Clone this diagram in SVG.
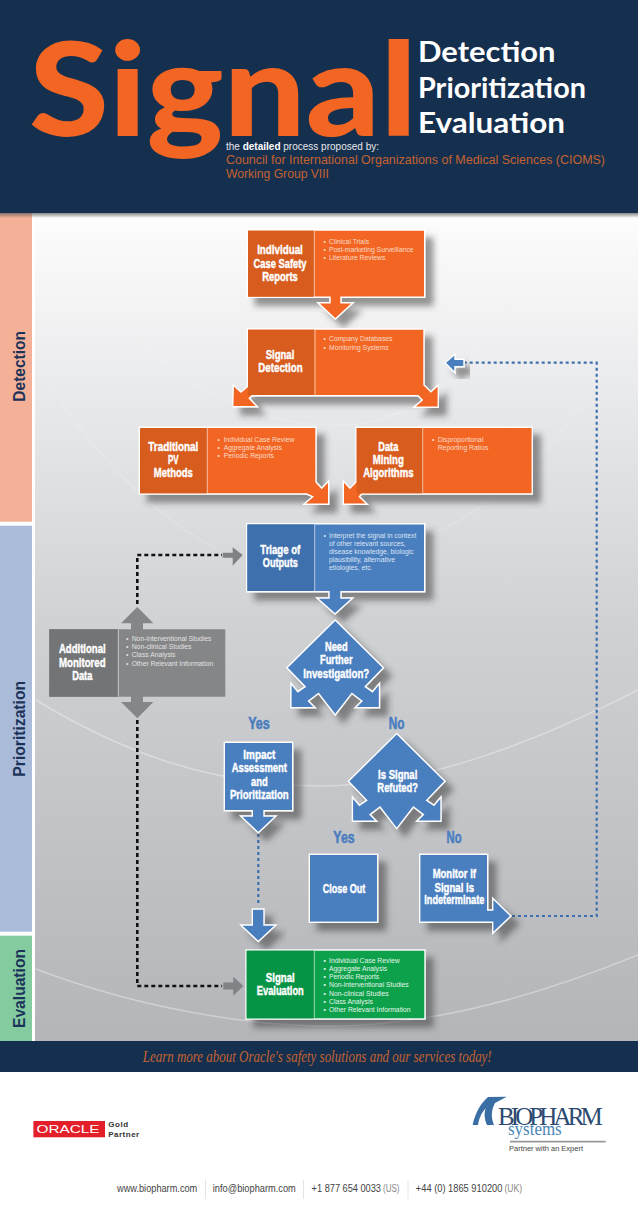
<svg xmlns="http://www.w3.org/2000/svg" width="638" height="1218" viewBox="0 0 638 1218">
<style>
text{font-family:"Liberation Sans",Arial,sans-serif}
.h{font-weight:700;font-size:13.500px;fill:#fff;stroke:#fff;stroke-width:.45;text-anchor:middle}
.yn{font-weight:700;font-size:16px;fill:#4a7ebf;stroke:#4a7ebf;stroke-width:.55;text-anchor:middle}
.b{font-size:6.800px}
.bo{fill:#fbdcc8}.bb{fill:#dbe5f3}.bg{fill:#e2e2e2}.bv{fill:#e4f4ea}
.or{fill:#f26522;stroke:#fff;stroke-width:1.4}
.orl{fill:#d75c1d}
.bl{fill:#4a7ebf;stroke:#fff;stroke-width:1.4}
.bll{fill:#3f70ae}
.gn{fill:#0aa14c;stroke:#fff;stroke-width:1.4}
.gnl{fill:#079345}
.div{stroke:#fff;stroke-width:.8;stroke-opacity:.75}
.side{font-weight:700;font-size:17px;fill:#1b3358;text-anchor:middle}
.title{font-family:Lato,"Liberation Sans",sans-serif;font-weight:700;font-size:29px;fill:#fff}
.arc{fill:none;stroke:#fff;stroke-width:1.500;stroke-opacity:.35}
.arcf{fill:none;stroke:#fff;stroke-width:1.500;stroke-opacity:.16}
.ct{font-size:10px;fill:#444}
.ct2{font-size:10px;fill:#888}
.blk{fill:none;stroke:#111;stroke-width:2.600;stroke-dasharray:4 3}
.blu{fill:none;stroke:#3f70ae;stroke-width:2.200;stroke-dasharray:3 3}
.shd{filter:url(#sh)}
</style>
<defs>
<linearGradient id="bg" x1="0" y1="0" x2="0" y2="1">
<stop offset="0" stop-color="#fdfdfd"/><stop offset=".25" stop-color="#e6e7e9"/><stop offset=".5" stop-color="#d0d1d3"/><stop offset="1" stop-color="#b4b5b9"/>
</linearGradient>
<linearGradient id="hs" x1="0" y1="0" x2="0" y2="1">
<stop offset="0" stop-color="#555" stop-opacity=".7"/><stop offset="1" stop-color="#555" stop-opacity="0"/>
</linearGradient>
<filter id="sh" x="-20%" y="-20%" width="150%" height="150%">
<feDropShadow dx="8" dy="8" stdDeviation="3" flood-color="#333" flood-opacity=".5"/>
</filter>
<polygon id="dia" points="0,-47.7 48.3,0 30,19 37.3,24 44.3,15.7 44.3,40 20,40 26.7,33.3 16.7,25.7 0,47.3 -16.7,25.7 -26.7,33.3 -20,40 -44.3,40 -44.3,15.7 -37.3,24 -30,19 -48.3,0"/>
</defs>

<rect width="638" height="1218" fill="#fff"/>
<g id="background">
<rect x="35" y="213" width="603" height="828" fill="url(#bg)"/>
<path class="arcf" d="M36 360C90 460 170 525 215 548"/>
<path class="arcf" d="M130 330C190 395 270 427 335 425C400 427 460 385 490 327"/>
<path class="arcf" d="M430 535C490 510 560 450 603 370"/>
<path class="arc" d="M36 700C110 745 200 785 320 786C420 786 530 745 638 690"/>
<path class="arc" d="M36 969C130 1005 240 1026 330 1026C430 1026 540 995 638 955"/>
</g>

<g id="phase-bands">
<rect x="0" y="213" width="32" height="308.700" fill="#f4b197"/>
<rect x="0" y="525.700" width="32" height="406" fill="#abbcdb"/>
<rect x="0" y="935.700" width="32" height="105.300" fill="#85cba0"/>
<text class="side" transform="translate(24.700 366.300) rotate(-90)" textLength="70.700" lengthAdjust="spacingAndGlyphs">Detection</text>
<text class="side" transform="translate(24.700 728.800) rotate(-90)" textLength="95.700" lengthAdjust="spacingAndGlyphs">Prioritization</text>
<text class="side" transform="translate(24.700 988.500) rotate(-90)" textLength="79" lengthAdjust="spacingAndGlyphs">Evaluation</text>
</g>

<g id="header">
<rect width="638" height="213" fill="#15304f"/>
<rect y="213" width="638" height="5" fill="url(#hs)"/>
<text x="29" y="136" style="font-family:Lato,'Liberation Sans',sans-serif;font-weight:900;font-size:129px;fill:#f26522" textLength="388" lengthAdjust="spacingAndGlyphs">Signal</text>
<text class="title" x="418" y="61.700" textLength="137.500" lengthAdjust="spacingAndGlyphs">Detection</text>
<text class="title" x="418" y="97.700" textLength="168" lengthAdjust="spacingAndGlyphs">Prioritization</text>
<text class="title" x="418" y="133.300" textLength="147" lengthAdjust="spacingAndGlyphs">Evaluation</text>
<text x="226" y="150" font-size="11" fill="#e6e8ec" textLength="153" lengthAdjust="spacingAndGlyphs">the <tspan font-weight="700" fill="#fff">detailed</tspan> process proposed by:</text>
<text x="226" y="164.300" font-size="13" fill="#c4622f" textLength="379" lengthAdjust="spacingAndGlyphs">Council for International Organizations of Medical Sciences (CIOMS)</text>
<text x="226" y="178.300" font-size="13" fill="#c4622f" textLength="103" lengthAdjust="spacingAndGlyphs">Working Group VIII</text>
</g>

<g id="connectors">
<path class="blk" d="M137.300 604V555H222"/>
<path class="blk" d="M137.300 720V986H222"/>
<path class="blu" d="M258.300 834V906"/>
<path class="blu" d="M512 916H596.700V362.700H465"/>
<polygon fill="#808285" points="222.700,552.700 232.700,552.700 232.700,547.300 242.700,555 232.700,565.700 232.700,557.700 222.700,557.700"/>
<polygon fill="#808285" points="223.300,982.500 233.300,982.500 233.300,976.700 243.300,986 233.300,995.700 233.300,989.500 223.300,989.500"/>
<polygon class="shd bl" points="252.300,909 264,909 264,925 276,925 258.300,941.500 240.700,925 252.300,925"/>
<polygon class="shd bl" points="464,359.300 455,359.300 455,354.300 445,362.700 455,372.700 455,366.700 464,366.700"/>
</g>

<g id="icsr">
<polygon class="shd or" points="247.300,230 424.700,230 424.700,297.300 341,297.300 341,302.700 353,302.700 335.300,319 318,302.700 330,302.700 330,297.300 247.300,297.300"/>
<rect class="orl" x="248" y="230.700" width="66" height="66"/>
<line class="div" x1="314.300" y1="230.700" x2="314.300" y2="297"/>
<text class="h" x="280" y="254.300" textLength="45.700" lengthAdjust="spacingAndGlyphs">Individual</text>
<text class="h" x="280" y="267.700" textLength="53" lengthAdjust="spacingAndGlyphs">Case Safety</text>
<text class="h" x="280" y="281" textLength="35.700" lengthAdjust="spacingAndGlyphs">Reports</text>
<text class="b bo" y="243.700"><tspan x="323.500">•</tspan><tspan x="329">Clinical Trials</tspan></text>
<text class="b bo" y="251.900"><tspan x="323.500">•</tspan><tspan x="329">Post-marketing Surveillance</tspan></text>
<text class="b bo" y="260.100"><tspan x="323.500">•</tspan><tspan x="329">Literature Reviews</tspan></text>
</g>

<g id="signal-detection">
<polygon class="shd or" points="247.300,329 424,329 424,385 431,391.700 438.300,385 438.300,407.300 414,407.300 422.300,400 418,395.700 252,395.700 249.300,398.300 257.300,406.700 232.700,406.700 233.300,385 241,392 247.300,386.700"/>
<rect class="orl" x="248" y="329.700" width="66" height="65.300"/>
<line class="div" x1="315" y1="329.700" x2="315" y2="395.300"/>
<text class="h" x="280" y="358.700" textLength="28.700" lengthAdjust="spacingAndGlyphs">Signal</text>
<text class="h" x="280.500" y="372" textLength="44.300" lengthAdjust="spacingAndGlyphs">Detection</text>
<text class="b bo" y="341.300"><tspan x="323.500">•</tspan><tspan x="329">Company Databases</tspan></text>
<text class="b bo" y="349.600"><tspan x="323.500">•</tspan><tspan x="329">Monitoring Systems</tspan></text>
</g>

<g id="traditional-pv">
<polygon class="shd or" points="139.300,427.300 316,427.300 316,482 321.700,488.300 328.700,481 328.700,504.300 304,504.300 312.700,496.700 306.700,494 139.300,494"/>
<rect class="orl" x="140" y="428" width="67" height="65.300"/>
<line class="div" x1="207.300" y1="428" x2="207.300" y2="493.500"/>
<text class="h" x="173.300" y="450.700" textLength="50" lengthAdjust="spacingAndGlyphs">Traditional</text>
<text class="h" x="173.300" y="464" textLength="10.700" lengthAdjust="spacingAndGlyphs">PV</text>
<text class="h" x="173.300" y="477" textLength="39" lengthAdjust="spacingAndGlyphs">Methods</text>
<text class="b bo" y="441.700"><tspan x="217.500">•</tspan><tspan x="223.700">Individual Case Review</tspan></text>
<text class="b bo" y="449.900"><tspan x="217.500">•</tspan><tspan x="223.700">Aggregate Analysis</tspan></text>
<text class="b bo" y="458.100"><tspan x="217.500">•</tspan><tspan x="223.700">Periodic Reports</tspan></text>
</g>

<g id="data-mining">
<polygon class="shd or" points="356,427.300 532.300,427.300 532.300,494 361.700,494 359.300,496.700 367.300,504.300 343.300,504.300 343.300,481 350,488.300 356,482"/>
<rect class="orl" x="356.700" y="428" width="66" height="65.300"/>
<line class="div" x1="422.700" y1="428" x2="422.700" y2="493.500"/>
<text class="h" x="388.300" y="450.700" textLength="20" lengthAdjust="spacingAndGlyphs">Data</text>
<text class="h" x="388.300" y="464" textLength="31" lengthAdjust="spacingAndGlyphs">Mining</text>
<text class="h" x="388.300" y="477" textLength="50.300" lengthAdjust="spacingAndGlyphs">Algorithms</text>
<text class="b bo" y="441.700"><tspan x="432">•</tspan><tspan x="437.700">Disproportional</tspan></text>
<text class="b bo" x="437.700" y="449.900">Reporting Ratios</text>
</g>

<g id="triage">
<polygon class="shd bl" points="246.700,523.700 424.700,523.700 424.700,591.700 341,591.700 341,598 352.700,598 335,614 317,598 329,598 329,591.700 246.700,591.700"/>
<rect class="bll" x="247.400" y="524.400" width="67" height="66.600"/>
<line class="div" x1="314.700" y1="524.400" x2="314.700" y2="591"/>
<text class="h" x="280.300" y="553.700" textLength="40" lengthAdjust="spacingAndGlyphs">Triage of</text>
<text class="h" x="280.300" y="567" textLength="35" lengthAdjust="spacingAndGlyphs">Outputs</text>
<text class="b bb" y="537.700"><tspan x="323.500">•</tspan><tspan x="329">Interpret the signal in context</tspan></text>
<text class="b bb" x="329" y="545.800">of other relevant sources,</text>
<text class="b bb" x="329" y="553.900">disease knowledge, biologic</text>
<text class="b bb" x="329" y="562">plausibility, alternative</text>
<text class="b bb" x="329" y="570.100">etiologies, etc.</text>
</g>

<g id="additional-data">
<polygon fill="#858688" points="49.300,629.300 131,629.300 131,623.300 121,623.300 137.300,607 153.300,623.300 143,623.300 143,629.300 225.300,629.300 225.300,696.700 143,696.700 143,702 153.300,702 137.300,718.300 121,702 131,702 131,696.700 49.300,696.700"/>
<rect x="49.300" y="629.300" width="69" height="67.400" fill="#737476"/>
<line class="div" x1="118.300" y1="629.300" x2="118.300" y2="696.700"/>
<text class="h" x="82.300" y="653.300" textLength="46.700" lengthAdjust="spacingAndGlyphs">Additional</text>
<text class="h" x="82.300" y="666.700" textLength="46.700" lengthAdjust="spacingAndGlyphs">Monitored</text>
<text class="h" x="82.300" y="680" textLength="20" lengthAdjust="spacingAndGlyphs">Data</text>
<text class="b bg" y="641"><tspan x="126">•</tspan><tspan x="131.700">Non-interventional Studies</tspan></text>
<text class="b bg" y="649.200"><tspan x="126">•</tspan><tspan x="131.700">Non-clinical Studies</tspan></text>
<text class="b bg" y="657.400"><tspan x="126">•</tspan><tspan x="131.700">Class Analysis</tspan></text>
<text class="b bg" y="665.600"><tspan x="126">•</tspan><tspan x="131.700">Other Relevant Information</tspan></text>
</g>

<g id="need-further">
<use href="#dia" x="335.200" y="667.700" class="shd bl"/>
<text class="h" x="336.300" y="651" textLength="22.700" lengthAdjust="spacingAndGlyphs">Need</text>
<text class="h" x="336.300" y="664.300" textLength="32.700" lengthAdjust="spacingAndGlyphs">Further</text>
<text class="h" x="336.300" y="677.700" textLength="66" lengthAdjust="spacingAndGlyphs">Investigation?</text>
</g>
<text class="yn" x="259" y="729.300" textLength="21.700" lengthAdjust="spacingAndGlyphs">Yes</text>
<text class="yn" x="396.500" y="729.300" textLength="15.700" lengthAdjust="spacingAndGlyphs">No</text>

<g id="impact">
<polygon class="shd bl" points="224.300,742.300 292.700,742.300 292.700,810.700 264,810.700 264,816 276,816 258.300,832.700 240.700,816 252.300,816 252.300,810.700 224.300,810.700"/>
<text class="h" x="259.300" y="759" textLength="32" lengthAdjust="spacingAndGlyphs">Impact</text>
<text class="h" x="259.300" y="772.300" textLength="55.300" lengthAdjust="spacingAndGlyphs">Assessment</text>
<text class="h" x="259.300" y="785.700" textLength="16.700" lengthAdjust="spacingAndGlyphs">and</text>
<text class="h" x="259.300" y="799" textLength="58.700" lengthAdjust="spacingAndGlyphs">Prioritization</text>
</g>

<g id="is-refuted">
<use href="#dia" x="396.700" y="781.300" class="shd bl"/>
<text class="h" x="397.700" y="779" textLength="39.300" lengthAdjust="spacingAndGlyphs">Is Signal</text>
<text class="h" x="397.700" y="792.300" textLength="40.700" lengthAdjust="spacingAndGlyphs">Refuted?</text>
</g>
<text class="yn" x="344" y="843" textLength="21.300" lengthAdjust="spacingAndGlyphs">Yes</text>
<text class="yn" x="454" y="842.500" textLength="15" lengthAdjust="spacingAndGlyphs">No</text>

<g id="close-out">
<rect class="shd bl" x="309.300" y="854.300" width="68.400" height="68"/>
<text class="h" x="344" y="893" textLength="42.700" lengthAdjust="spacingAndGlyphs">Close Out</text>
</g>

<g id="monitor">
<polygon class="shd bl" points="419.700,854.300 487.700,854.300 487.700,910 492.700,910 492.700,898.300 511,916 492.700,933.300 492.700,922.300 419.700,922.300"/>
<text class="h" x="454.300" y="878" textLength="43.300" lengthAdjust="spacingAndGlyphs">Monitor if</text>
<text class="h" x="454.300" y="892" textLength="39.700" lengthAdjust="spacingAndGlyphs">Signal is</text>
<text class="h" x="454.300" y="904" textLength="60" lengthAdjust="spacingAndGlyphs">Indeterminate</text>
</g>

<g id="signal-evaluation">
<rect class="shd gn" x="246" y="950" width="179" height="69"/>
<rect class="gnl" x="246.700" y="950.700" width="67.500" height="67.600"/>
<line class="div" x1="314.300" y1="950.700" x2="314.300" y2="1018.300"/>
<text class="h" x="280.300" y="981.700" textLength="29" lengthAdjust="spacingAndGlyphs">Signal</text>
<text class="h" x="280.300" y="995" textLength="47" lengthAdjust="spacingAndGlyphs">Evaluation</text>
<text class="b bv" y="962.700"><tspan x="323.500">•</tspan><tspan x="329">Individual Case Review</tspan></text>
<text class="b bv" y="970.900"><tspan x="323.500">•</tspan><tspan x="329">Aggregate Analysis</tspan></text>
<text class="b bv" y="979.100"><tspan x="323.500">•</tspan><tspan x="329">Periodic Reports</tspan></text>
<text class="b bv" y="987.300"><tspan x="323.500">•</tspan><tspan x="329">Non-interventional Studies</tspan></text>
<text class="b bv" y="995.500"><tspan x="323.500">•</tspan><tspan x="329">Non-clinical Studies</tspan></text>
<text class="b bv" y="1003.600"><tspan x="323.500">•</tspan><tspan x="329">Class Analysis</tspan></text>
<text class="b bv" y="1011.700"><tspan x="323.500">•</tspan><tspan x="329">Other Relevant Information</tspan></text>
</g>

<g id="learn-more">
<rect y="1041" width="638" height="31" fill="#15304f"/>
<text x="142.700" y="1062" style="font-family:'Liberation Serif',serif;font-style:italic;font-size:17px;fill:#c4622f" textLength="349" lengthAdjust="spacingAndGlyphs">Learn more about Oracle's safety solutions and our services today!</text>
</g>

<g id="oracle-logo">
<rect x="33.400" y="1121" width="71.600" height="16.300" fill="#e3202a"/>
<text x="36.600" y="1133.300" font-size="10.500" fill="#fff" textLength="63" lengthAdjust="spacingAndGlyphs">ORACLE</text>
<text x="108.200" y="1126.700" font-size="8" font-weight="700" fill="#333" textLength="20" lengthAdjust="spacing">Gold</text>
<text x="108.200" y="1137" font-size="8" font-weight="700" fill="#333" textLength="31" lengthAdjust="spacing">Partner</text>
</g>

<g id="biopharm-logo">
<path d="M472.700 1125C475 1113 481 1103 488 1097L506.700 1096.700L495 1103C491 1110 491 1118 494 1125L487 1125C484 1118 484 1112 486 1108C481 1113 479 1119 478 1125Z" fill="#3a6ea5"/>
<text x="498" y="1125" style="font-family:'Liberation Serif',serif;font-size:25px;fill:#2c4a72" textLength="104.700" lengthAdjust="spacing">BIOPHARM</text>
<text x="508" y="1135" style="font-family:'Liberation Serif',serif;font-size:19px;fill:#4a86b8" textLength="53.700" lengthAdjust="spacingAndGlyphs">systems</text>
<line x1="510" y1="1141.700" x2="605.700" y2="1141.700" stroke="#999" stroke-width="1.800"/>
<text x="509" y="1150.700" font-size="7.500" fill="#444" textLength="74" lengthAdjust="spacing">Partner with an Expert</text>
</g>

<g id="contact">
<text class="ct" x="117" y="1192" textLength="80.300" lengthAdjust="spacingAndGlyphs">www.biopharm.com</text>
<line x1="205.500" y1="1180" x2="205.500" y2="1199" stroke="#ddd" stroke-width=".8"/>
<text class="ct" x="212.800" y="1192" textLength="83" lengthAdjust="spacingAndGlyphs">info@biopharm.com</text>
<line x1="303.500" y1="1180" x2="303.500" y2="1199" stroke="#ddd" stroke-width=".8"/>
<text class="ct" x="311.600" y="1192" textLength="69.400" lengthAdjust="spacingAndGlyphs">+1 877 654 0033</text>
<text class="ct2" x="383" y="1192" textLength="16.500" lengthAdjust="spacingAndGlyphs">(US)</text>
<line x1="408" y1="1180" x2="408" y2="1199" stroke="#ddd" stroke-width=".8"/>
<text class="ct" x="415.800" y="1192" textLength="86.600" lengthAdjust="spacingAndGlyphs">+44 (0) 1865 910200</text>
<text class="ct2" x="504.500" y="1192" textLength="17.500" lengthAdjust="spacingAndGlyphs">(UK)</text>
</g>
</svg>
